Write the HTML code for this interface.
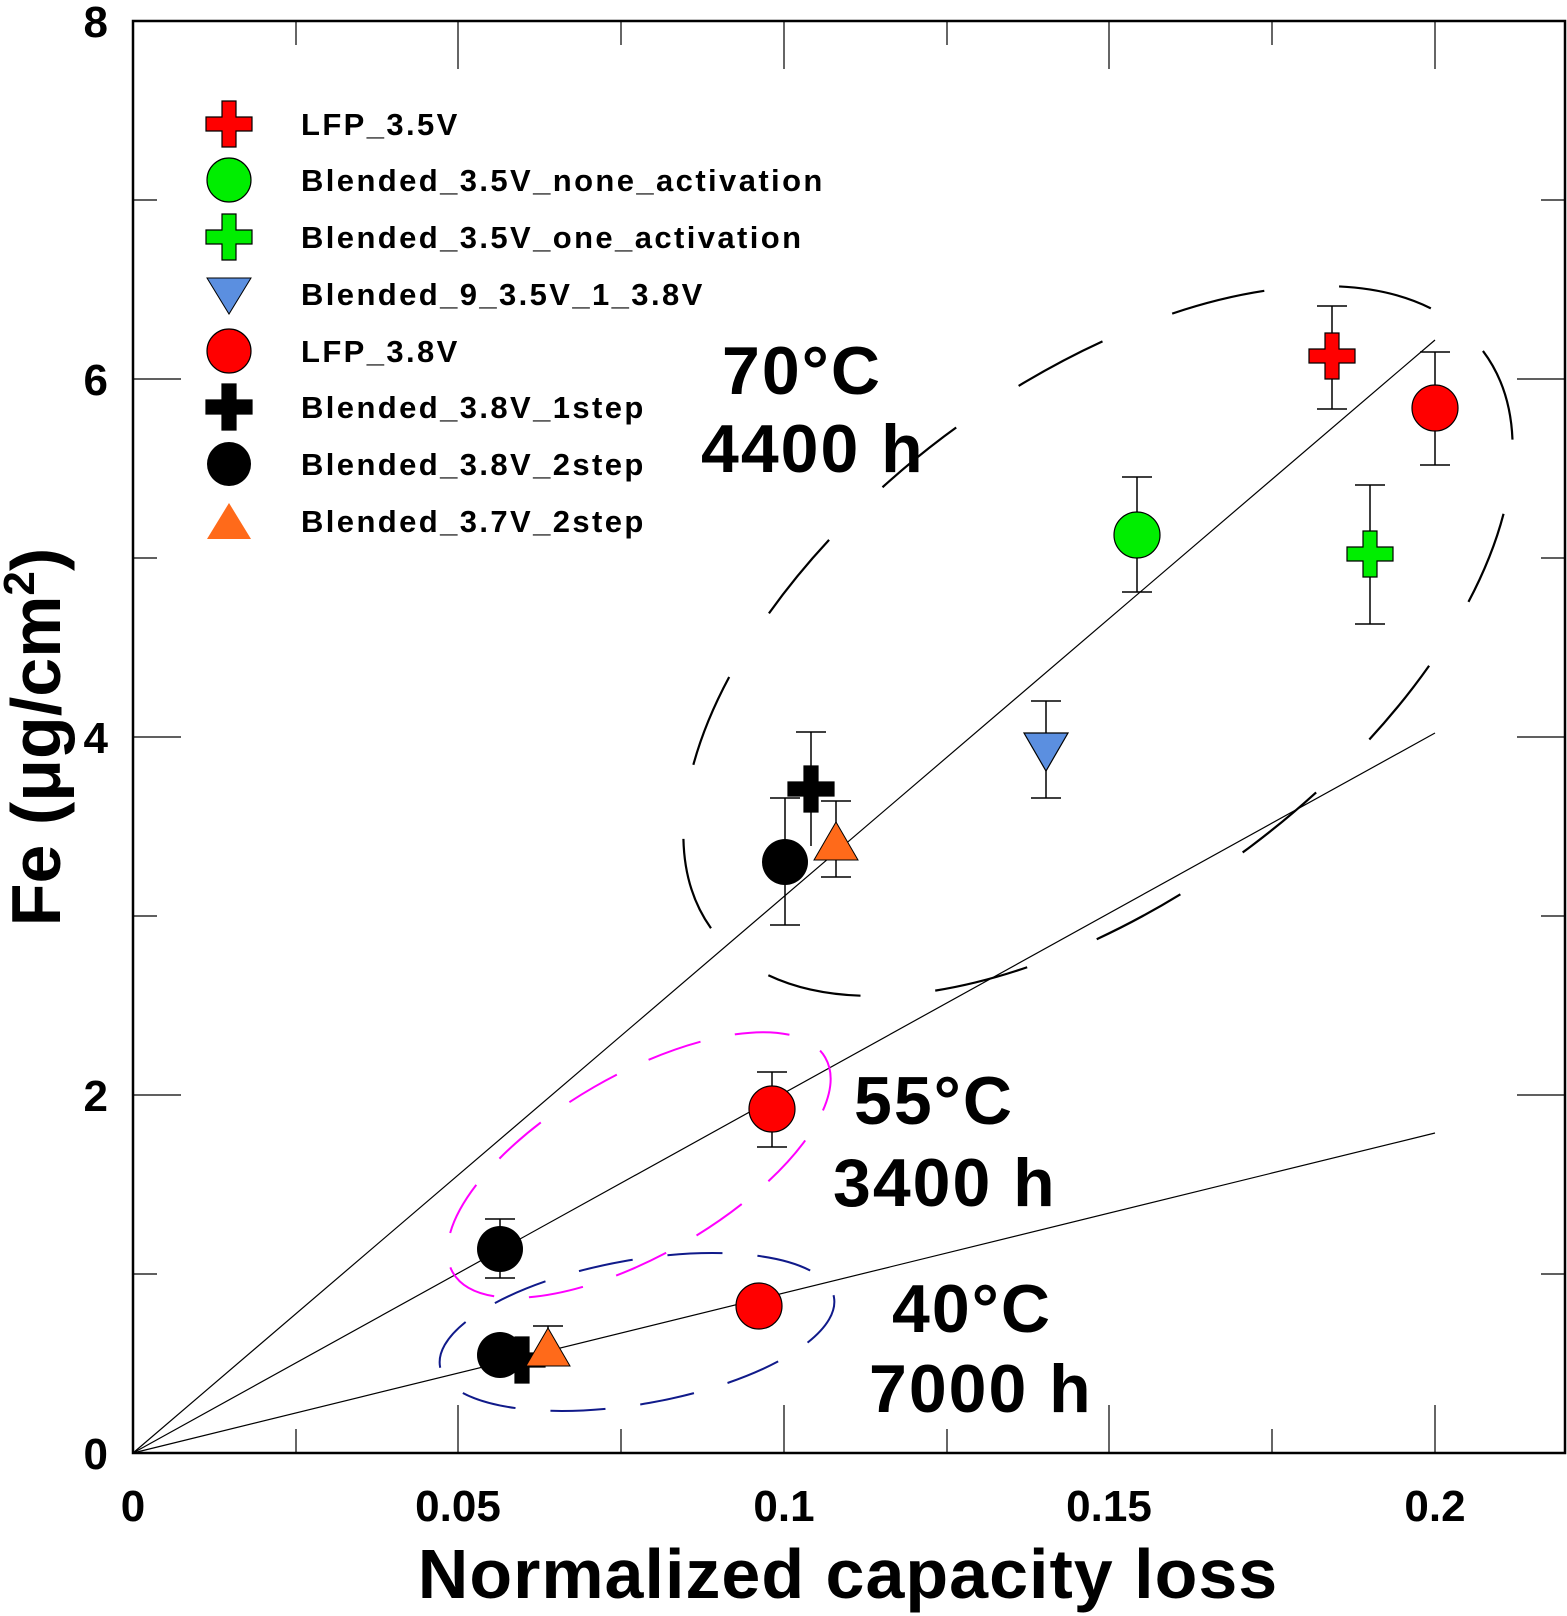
<!DOCTYPE html>
<html><head><meta charset="utf-8"><style>
html,body{margin:0;padding:0;background:#fff}
svg{display:block}
text{font-family:"Liberation Sans",Arial,sans-serif;font-weight:bold;fill:#000}
</style></head><body>
<svg width="1567" height="1616" viewBox="0 0 1567 1616" xmlns="http://www.w3.org/2000/svg">
<defs>
<g id="cross"><path d="M-7,-23 H7 V-7 H23 V7 H7 V23 H-7 V7 H-23 V-7 H-7 Z" stroke="#000" stroke-width="1.2"/></g>
</defs>
<rect x="133" y="21" width="1432" height="1432" fill="none" stroke="#000" stroke-width="2.5"/>
<g stroke="#000" stroke-width="1.2">
<path d="M458,1453v-48M784,1453v-48M1109,1453v-48M1435,1453v-48M296,1453v-24M621,1453v-24M947,1453v-24M1272,1453v-24"/>
<path d="M458,21v48M784,21v48M1109,21v48M1435,21v48M296,21v24M621,21v24M947,21v24M1272,21v24"/>
<path d="M133,1095h48M133,737h48M133,379h48M133,1274h24M133,916h24M133,558h24M133,200h24"/>
<path d="M1565,1095h-48M1565,737h-48M1565,379h-48M1565,1274h-24M1565,916h-24M1565,558h-24M1565,200h-24"/>
</g>
<g stroke="#000" stroke-width="1.2">
<line x1="133" y1="1453" x2="1435" y2="340"/>
<line x1="133" y1="1453" x2="1435" y2="733"/>
<line x1="133" y1="1453" x2="1435" y2="1133"/>
</g>
<ellipse cx="1098" cy="641" rx="482" ry="256" transform="rotate(-37 1098 641)" fill="none" stroke="#000" stroke-width="2.2" stroke-dasharray="95,75"/>
<ellipse cx="639" cy="1165" rx="215" ry="90" transform="rotate(-30 639 1165)" fill="none" stroke="#ff00ff" stroke-width="2" stroke-dasharray="55,35"/>
<ellipse cx="637" cy="1332" rx="200" ry="72" transform="rotate(-10 637 1332)" fill="none" stroke="#101a8a" stroke-width="2" stroke-dasharray="55,35"/>
<g stroke="#000" stroke-width="1.5" fill="none">
<path d="M1332,306V409M1317,306h30M1317,409h30"/>
<path d="M1435,352V465M1420,352h30M1420,465h30"/>
<path d="M1137,477V592M1122,477h30M1122,592h30"/>
<path d="M1370,485V624M1355,485h30M1355,624h30"/>
<path d="M1046,701V798M1031,701h30M1031,798h30"/>
<path d="M811,732V846M796,732h30"/>
<path d="M785,798V925M770,798h30M770,925h30"/>
<path d="M836,801V877M821,801h30M821,877h30"/>
<path d="M772,1072V1147M757,1072h30M757,1147h30"/>
<path d="M500,1219V1278M485,1219h30M485,1278h30"/>
<path d="M759,1296V1321M744,1296h30M744,1321h30"/>
<path d="M548,1326V1347M533,1326h30"/>
<path d="M500,1342V1362M485,1342h30"/>
</g>
<use href="#cross" x="1332" y="356" fill="#ff0000"/>
<circle cx="1435" cy="408" r="23" fill="#ff0000" stroke="#000" stroke-width="1.2"/>
<circle cx="1137" cy="535" r="23" fill="#00ee00" stroke="#000" stroke-width="1.2"/>
<use href="#cross" x="1370" y="554" fill="#00ee00"/>
<path d="M1024,733 H1068 L1046,771 Z" fill="#5b8fe0" stroke="#000" stroke-width="1.2"/>
<use href="#cross" x="811" y="789" fill="#000"/>
<circle cx="785" cy="862" r="23" fill="#000"/>
<path d="M814,860 H858 L836,822 Z" fill="#ff6a1a" stroke="#000" stroke-width="1"/>
<circle cx="772" cy="1109" r="23" fill="#ff0000" stroke="#000" stroke-width="1.2"/>
<circle cx="500" cy="1249" r="23" fill="#000"/>
<circle cx="759" cy="1306" r="23" fill="#ff0000" stroke="#000" stroke-width="1.2"/>
<use href="#cross" x="522" y="1360" fill="#000"/>
<path d="M526,1366 H570 L548,1328 Z" fill="#ff6a1a" stroke="#000" stroke-width="1"/>
<circle cx="500" cy="1355" r="23" fill="#000"/>
<use href="#cross" x="229" y="124" fill="#ff0000"/>
<circle cx="229" cy="180" r="22" fill="#00ee00" stroke="#000" stroke-width="1.2"/>
<use href="#cross" x="229" y="237" fill="#00ee00"/>
<path d="M207,278 H251 L229,314 Z" fill="#5b8fe0" stroke="#000" stroke-width="1"/>
<circle cx="229" cy="351" r="22" fill="#ff0000" stroke="#000" stroke-width="1.2"/>
<use href="#cross" x="229" y="407" fill="#000"/>
<circle cx="229" cy="464" r="22" fill="#000"/>
<path d="M207,539 H251 L229,503 Z" fill="#ff6a1a"/>
<g font-size="31" letter-spacing="2.4">
<text x="301" y="135">LFP_3.5V</text>
<text x="301" y="191">Blended_3.5V_none_activation</text>
<text x="301" y="248">Blended_3.5V_one_activation</text>
<text x="301" y="305">Blended_9_3.5V_1_3.8V</text>
<text x="301" y="362">LFP_3.8V</text>
<text x="301" y="418">Blended_3.8V_1step</text>
<text x="301" y="475">Blended_3.8V_2step</text>
<text x="301" y="532">Blended_3.7V_2step</text>
</g>
<g font-size="68" letter-spacing="2">
<text x="722" y="394">70°C</text>
<text x="701" y="472">4400 h</text>
<text x="854" y="1124">55°C</text>
<text x="833" y="1206">3400 h</text>
<text x="892" y="1332">40°C</text>
<text x="869" y="1412">7000 h</text>
</g>
<g font-size="44" text-anchor="end">
<text x="108" y="37">8</text>
<text x="108" y="395">6</text>
<text x="108" y="753">4</text>
<text x="108" y="1111">2</text>
<text x="108" y="1469">0</text>
</g>
<g font-size="44" text-anchor="middle">
<text x="133" y="1521">0</text>
<text x="458" y="1521">0.05</text>
<text x="784" y="1521">0.1</text>
<text x="1109" y="1521">0.15</text>
<text x="1435" y="1521">0.2</text>
</g>
<text x="848" y="1598" font-size="70" letter-spacing="1" text-anchor="middle">Normalized capacity loss</text>
<text transform="translate(60,737) rotate(-90)" font-size="70" text-anchor="middle">Fe (μg/cm<tspan font-size="44" dy="-26">2</tspan><tspan dy="26">)</tspan></text>
</svg>
</body></html>
